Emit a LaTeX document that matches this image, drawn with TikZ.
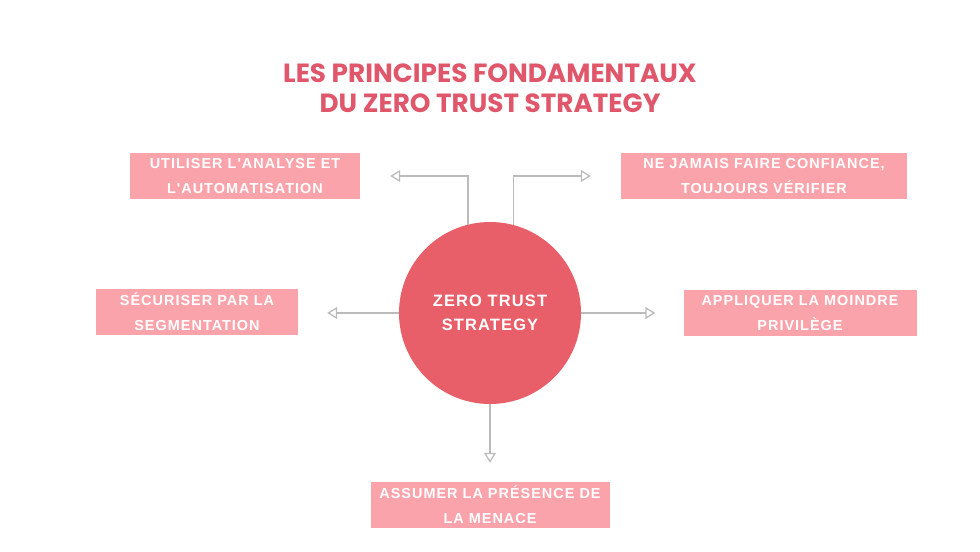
\documentclass[tikz,border=0pt]{standalone}
\usepackage{fontspec}
\setmainfont{Liberation Sans}
\newfontfamily\titlefont{Poppins}
\newfontfamily\boxfont[LetterSpace=7]{Liberation Sans}
\usetikzlibrary{arrows.meta}
\usepackage{xcolor}
\definecolor{TitleRed}{HTML}{E0566A}
\definecolor{CoreRed}{HTML}{E85F69}
\definecolor{BoxPink}{HTML}{FBA3AA}
\definecolor{LinkGrey}{HTML}{BBBBBB}

\begin{document}
\begin{tikzpicture}[x=1bp, y=-1bp,
            core/.style={circle, fill=CoreRed, minimum size=182bp, inner sep=0pt, align=center, text=white, font=\boxfont\bfseries\fontsize{16.5}{24}\selectfont},
            principle/.style={rectangle, fill=BoxPink, minimum height=46bp, inner sep=0pt, align=center, text=white, font=\boxfont\bfseries\fontsize{14.5}{25}\selectfont},
            link/.style={-{Triangle[open, length=10bp, width=12bp, fill=white]}, line width=1.3bp, color=LinkGrey},
            ttl/.style={align=center, text=TitleRed, font=\titlefont\bfseries\fontsize{26.4}{30}\selectfont}
        ]
            \useasboundingbox (0,0) rectangle (980,552);

            % Title
            \node[ttl] (title) at (490,88) {LES PRINCIPES FONDAMENTAUX\\DU ZERO TRUST STRATEGY};

            % Central circle
            \node[core] (zt) at (490,313) {ZERO TRUST\\STRATEGY};

            % Principles
            \node[principle, minimum width=230bp] (analyse) at (245,176) {UTILISER L'ANALYSE ET\\L'AUTOMATISATION};
            \node[principle, minimum width=286bp] (verify) at (764,176) {NE JAMAIS FAIRE CONFIANCE,\\TOUJOURS VÉRIFIER};
            \node[principle, minimum width=202bp] (segment) at (197,312) {SÉCURISER PAR LA\\SEGMENTATION};
            \node[principle, minimum width=233bp] (privilege) at (800,313) {APPLIQUER LA MOINDRE\\PRIVILÈGE};
            \node[principle, minimum width=239bp] (threat) at (490,505) {ASSUMER LA PRÉSENCE DE\\LA MENACE};

            % Links from the circle
            \draw[link, shorten >=30bp] (zt.104) |- (analyse.east);
            \draw[link, shorten >=30bp] (zt.75) |- (verify.west);
            \draw[link, shorten >=29bp] (zt.west) -- (segment.east |- zt.west);
            \draw[link, shorten >=28bp] (zt.east) -- (privilege.west |- zt.east);
            \draw[link, shorten >=19bp] (zt.south) -- (threat.north);
        \end{tikzpicture}
\end{document}
